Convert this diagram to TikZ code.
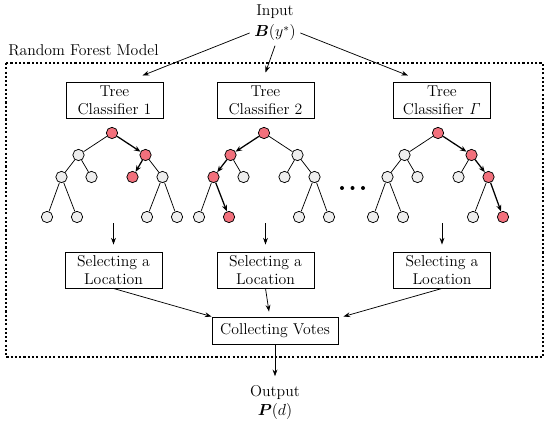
\documentclass[tikz,border=0pt]{standalone}
\usepackage{bm}
\usetikzlibrary{arrows.meta}

\definecolor{hotred}{RGB}{242,112,124}
\definecolor{coldgray}{RGB}{238,238,238}

\tikzset{
  box/.style={draw, line width=0.7pt, minimum width=72.75pt, minimum height=27pt, align=center, inner sep=1pt},
  leaf/.style={circle, draw, line width=0.55pt, fill=coldgray, minimum size=8.5pt, inner sep=0pt},
  hot/.style={leaf, fill=hotred},
  arrow/.style={line width=0.55pt, -{Stealth[length=5pt,width=3.6pt]}},
  hotarrow/.style={line width=0.95pt, -{Stealth[length=4.8pt,width=3.8pt]}},
  frame/.style={line width=1.7pt, dash pattern=on 1.6pt off 1.6pt}
}

\begin{document}
\begin{tikzpicture}[x=0.75pt, y=-0.75pt, font=\fontsize{11.8}{13.5}\selectfont]
\useasboundingbox (0,0) rectangle (550,427);

% Input and frame
\node (inp) at (275,12) {Input};
\node (inB) at (275,33) {$\bm{B}(y^*)$};
\node[anchor=west, inner sep=0pt] (rfm) at (8,50) {Random Forest Model};
\draw[frame] (6,63) rectangle (543,357);

% Tree classifiers
\node[box] (tc1) at (114.5,100) {Tree\\Classifier 1};
\node[box] (tc2) at (265.5,100) {Tree\\Classifier 2};
\node[box] (tc3) at (442,100) {Tree\\Classifier $\mathit{\Gamma}$};

\draw[arrow] (inB.west) -- ([shift={(28,-6)}]tc1.north);
\draw[arrow] (inB.south) -- ([shift={(0,-9)}]tc2.north);
\draw[arrow] (inB.east) -- ([shift={(-34,-6)}]tc3.north);

%Tree 1
\node[hot]  (t1)    at (112,133) {};
\node[leaf] (t1l)   at (78.5,155) {};
\node[hot]  (t1r)   at (145.5,155) {};
\node[leaf] (t1ll)  at (61.5,177) {};
\node[leaf] (t1lr)  at (91.5,177) {};
\node[hot]  (t1rl)  at (132.5,177) {};
\node[leaf] (t1rr)  at (162.5,177) {};
\node[leaf] (t1lll) at (47,217) {};
\node[leaf] (t1llr) at (77,217) {};
\node[leaf] (t1rrl) at (147,217) {};
\node[leaf] (t1rrr) at (177,217) {};
\draw[line width=0.55pt] (t1) -- (t1l) (t1l) -- (t1ll) (t1l) -- (t1lr) (t1r) -- (t1rr)
  (t1ll) -- (t1lll) (t1ll) -- (t1llr) (t1rr) -- (t1rrl) (t1rr) -- (t1rrr);
\draw[hotarrow] (t1) -- (t1r);
\draw[hotarrow] (t1r) -- (t1rl);

%Tree 2
\node[hot]  (t2)    at (264,133) {};
\node[hot]  (t2l)   at (230.5,155) {};
\node[leaf] (t2r)   at (297.5,155) {};
\node[hot]  (t2ll)  at (213.5,177) {};
\node[leaf] (t2lr)  at (243.5,177) {};
\node[leaf] (t2rl)  at (284.5,177) {};
\node[leaf] (t2rr)  at (314.5,177) {};
\node[leaf] (t2lll) at (199,217) {};
\node[hot]  (t2llr) at (229,217) {};
\node[leaf] (t2rrl) at (299,217) {};
\node[leaf] (t2rrr) at (329,217) {};
\draw[line width=0.55pt] (t2) -- (t2r) (t2l) -- (t2lr) (t2r) -- (t2rl) (t2r) -- (t2rr)
  (t2ll) -- (t2lll) (t2rr) -- (t2rrl) (t2rr) -- (t2rrr);
\draw[hotarrow] (t2) -- (t2l);
\draw[hotarrow] (t2l) -- (t2ll);
\draw[hotarrow] (t2ll) -- (t2llr);

%Tree 3
\node[hot]  (t3)    at (438,133) {};
\node[leaf] (t3l)   at (404.5,155) {};
\node[hot]  (t3r)   at (471.5,155) {};
\node[leaf] (t3ll)  at (387.5,177) {};
\node[leaf] (t3lr)  at (417.5,177) {};
\node[leaf] (t3rl)  at (458.5,177) {};
\node[hot]  (t3rr)  at (488.5,177) {};
\node[leaf] (t3lll) at (373,217) {};
\node[leaf] (t3llr) at (403,217) {};
\node[leaf] (t3rrl) at (473,217) {};
\node[hot]  (t3rrr) at (503,217) {};
\draw[line width=0.55pt] (t3) -- (t3l) (t3l) -- (t3ll) (t3l) -- (t3lr) (t3r) -- (t3rl)
  (t3ll) -- (t3lll) (t3ll) -- (t3llr) (t3rr) -- (t3rrl);
\draw[hotarrow] (t3) -- (t3r);
\draw[hotarrow] (t3r) -- (t3rr);
\draw[hotarrow] (t3rr) -- (t3rrr);

% dots
\fill (342,188) circle (2);
\fill (352.5,188) circle (2);
\fill (363,188) circle (2);

% Selecting a location
\node[box] (sel1) at (113.5,270) {Selecting a\\Location};
\node[box] (sel2) at (265.5,270) {Selecting a\\Location};
\node[box] (sel3) at (442,270) {Selecting a\\Location};

\draw[arrow, shorten >=5.25pt] (sel1.north |- t1lll.south) -- (sel1.north);
\draw[arrow, shorten >=5.25pt] (sel2.north |- t2lll.south) -- (sel2.north);
\draw[arrow, shorten >=5.25pt] (sel3.north |- t3lll.south) -- (sel3.north);

% Collecting votes
\node[box, minimum width=94.5pt, minimum height=20.25pt] (vote) at (275,330.5) {Collecting Votes};

\draw[arrow] (sel1.south) -- (vote.north west);
\draw[arrow] (sel2.south) -- ([shift={(-6,-5)}]vote.north);
\draw[arrow] (sel3.south) -- ([shift={(5,0)}]vote.north east);

% Output
\node (outp) at (275,392) {Output};
\node (outP) at (275,412) {$\bm{P}(d)$};
\draw[arrow, shorten >=3pt] (vote.south) -- (outp);

\end{tikzpicture}
\end{document}
